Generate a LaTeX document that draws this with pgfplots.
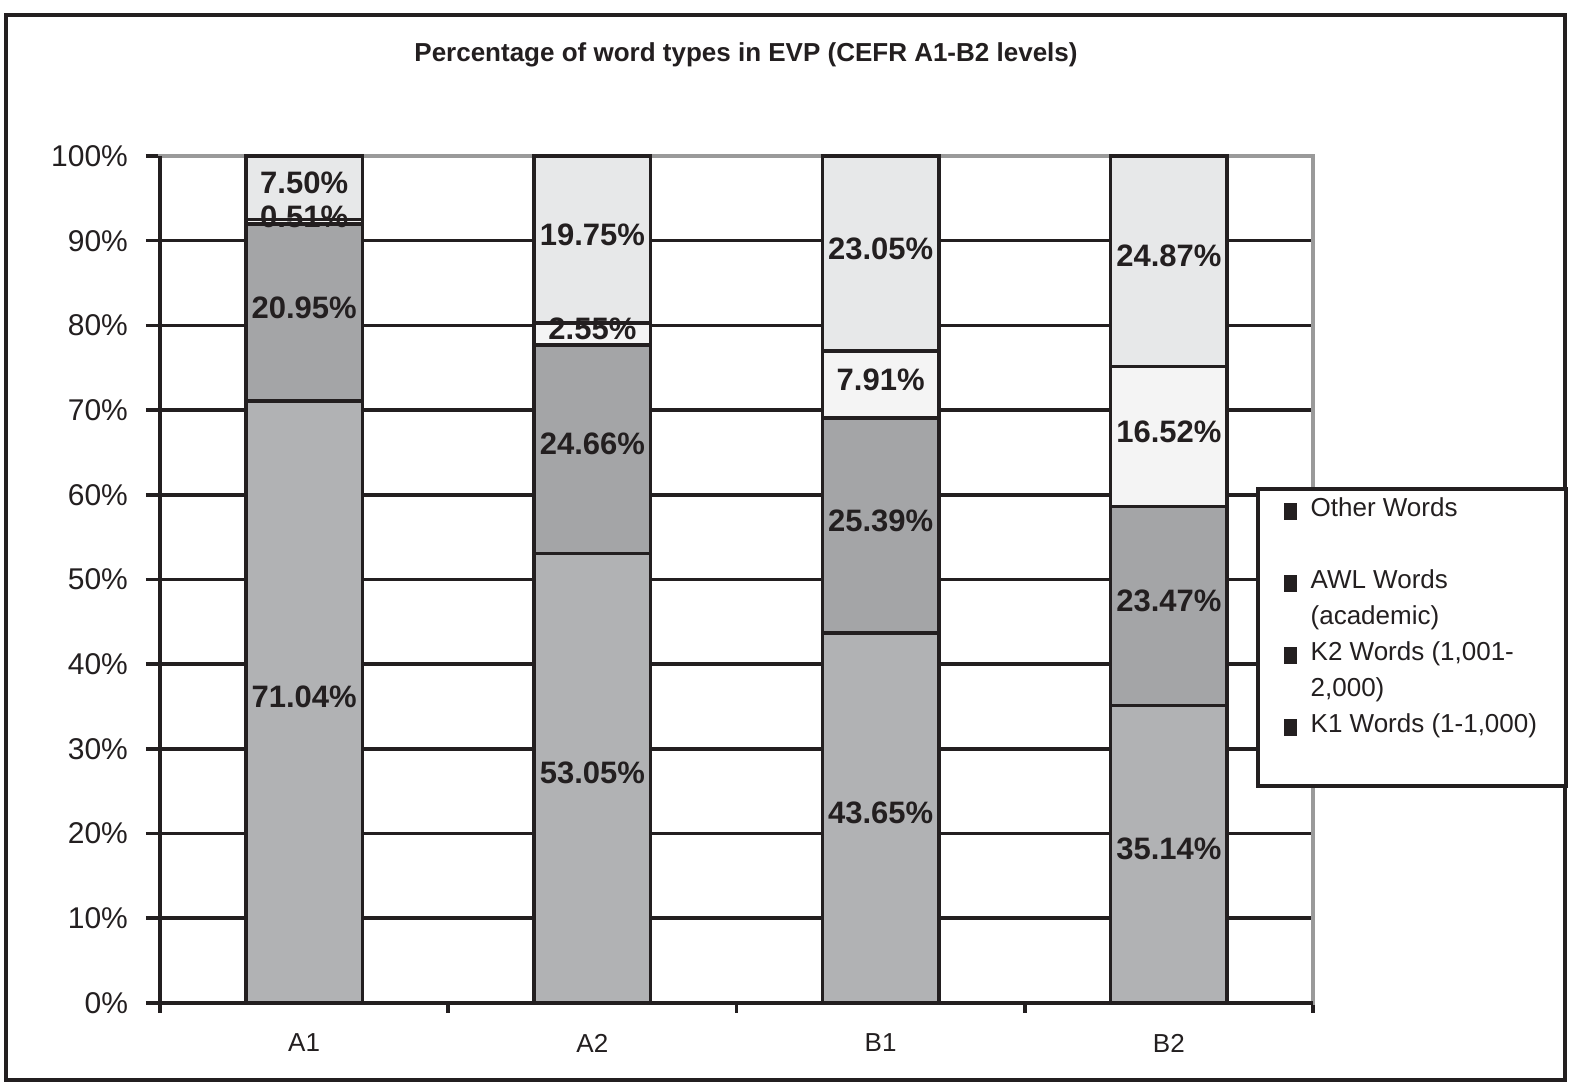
\documentclass[border=0pt]{standalone}
\usepackage{pgfplots}
\pgfplotsset{compat=1.18}
\usepackage{pgfplotstable}
\usepackage{fontspec}
\setmainfont{Liberation Sans}

\definecolor{kone}{HTML}{B1B2B4}
\definecolor{ktwo}{HTML}{A4A5A7}
\definecolor{awl}{HTML}{F4F4F4}
\definecolor{other}{HTML}{E7E8E9}
\definecolor{ink}{HTML}{231F20}
\definecolor{frame}{HTML}{9A9A9A}

% word types per CEFR level (percent)
\pgfplotstableread{
x K1 K2 AWL Other
0 71.04 20.95 0.51 7.50
1 53.05 24.66 2.55 19.75
2 43.65 25.39 7.91 23.05
3 35.14 23.47 16.52 24.87
}\evp

\begin{document}
\begin{tikzpicture}
\useasboundingbox (-80pt,-43.5pt) rectangle (708.5pt,501.5pt);
\fill[white] (-80pt,-43.5pt) rectangle (708.5pt,501.5pt);
\draw[ink, line width=2pt] (-77pt,-38.5pt) rectangle (702.5pt,494pt);
\node[font=\fontsize{13}{15}\selectfont\bfseries, text=ink] at (293pt,474pt)
  {Percentage of word types in EVP (CEFR A1-B2 levels)};
\begin{axis}[
  at={(0,0)}, anchor=south west,
  scale only axis, width=576.5pt, height=423.5pt,
  ybar stacked, bar width=58.25pt,
  xmin=-0.5, xmax=3.5, ymin=0, ymax=100,
  clip=false,
  /pgf/number format/assume math mode=true,
  xtick=data, xticklabels={A1,A2,B1,B2},
  minor xtick={-0.5,0.5,1.5,2.5,3.5},
  ytick={0,10,...,100},
  yticklabel={\pgfmathprintnumber{\tick}\%},
  tick pos=left,
  ymajorgrids,
  major grid style={ink, line width=1.8pt},
  axis line style={draw=frame, line width=1.8pt},
  tick align=outside,
  major tick length=7pt, minor tick length=5pt,
  every major tick/.append style={ink, line width=1.8pt},
  every minor tick/.append style={ink, line width=1.8pt},
  every major x tick/.append style={draw=none},
  yticklabel style={font=\fontsize{15}{17}\selectfont, text=ink, xshift=-5.5pt},
  xticklabel style={font=\fontsize{13}{15}\selectfont, text=ink, yshift=-5pt},
  point meta=explicit,
  nodes near coords={\pgfmathprintnumber[fixed,fixed zerofill,precision=2]{\pgfplotspointmeta}\%},
  every node near coord/.append style={anchor=center, yshift=2.5pt,
    font=\fontsize{15.5}{17}\selectfont\bfseries, text=ink},
  reverse legend,
  legend image code/.code={
    \path (0pt,0pt) (21pt,0pt);
    \fill[ink] (13pt,-1pt) rectangle (17.5pt,5.5pt);
  },
  legend style={at={(0.9506,0.6092)}, anchor=north west,
    draw=ink, line width=2pt, fill=white,
    inner xsep=0pt, inner ysep=1pt,
    nodes={inner sep=0pt, text depth=},
    cells={anchor=base west},
    column sep=3.5pt, row sep=0pt,
    font=\fontsize{13}{18}\selectfont, text=ink},
]
\addplot[fill=kone, draw=ink, line width=1.8pt]
  table[x=x, y=K1, meta=K1] {\evp};
\addlegendentry{\parbox[t]{127.5pt}{\strut K1 Words (1-1,000)\\\rule[-8pt]{0pt}{8pt}}}
\addplot[fill=ktwo, draw=ink, line width=1.8pt]
  table[x=x, y=K2, meta=K2] {\evp};
\addlegendentry{\parbox[t]{127.5pt}{\strut K2 Words (1,001-\\\strut 2,000)}}
\addplot[fill=awl, draw=ink, line width=1.8pt]
  table[x=x, y=AWL, meta=AWL] {\evp};
\addlegendentry{\parbox[t]{127.5pt}{\strut AWL Words\\\strut (academic)}}
\addplot[fill=other, draw=ink, line width=1.8pt]
  table[x=x, y=Other, meta=Other] {\evp};
\addlegendentry{\parbox[t]{127.5pt}{\strut Other Words\\\strut}}
\draw[ink, line width=1.8pt] (rel axis cs:0,1) -- (rel axis cs:0,0) -- (rel axis cs:1,0);
\end{axis}
\end{tikzpicture}
\end{document}
